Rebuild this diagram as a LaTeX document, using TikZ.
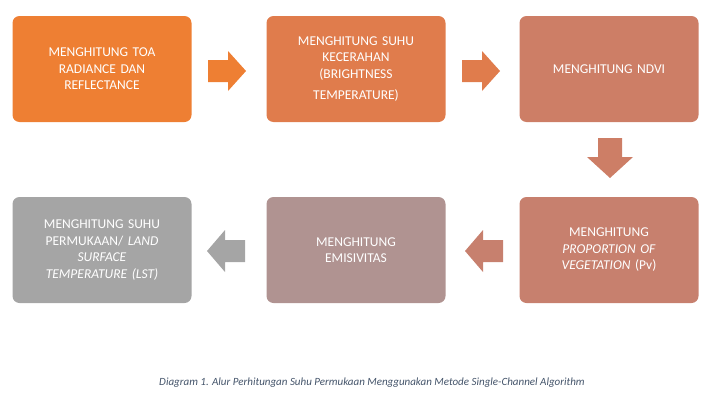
\documentclass[tikz,border=0pt]{standalone}
\usepackage{fontspec}
\setmainfont{Carlito}
\begin{document}
\begin{tikzpicture}[x=1pt,y=-1pt,
  box/.style={rounded corners=7pt,text=white,align=center,font=\fontsize{13.5}{16.5}\selectfont,minimum width=179pt,minimum height=106pt,inner sep=4pt,text width=170pt}]
\definecolor{c1}{HTML}{EE7F33}
\definecolor{c2}{HTML}{E07C4C}
\definecolor{c3}{HTML}{CD7E66}
\definecolor{c4}{HTML}{C7806E}
\definecolor{c5}{HTML}{B09391}
\definecolor{c6}{HTML}{A5A5A5}
\definecolor{cap}{HTML}{44546A}
\useasboundingbox (0,0) rectangle (715,407);
\node[box,fill=c1] (b1) at (102,69) {MENGHITUNG TOA\\RADIANCE DAN\\REFLECTANCE};
\node[box,fill=c2] (b2) at (356,69) {MENGHITUNG SUHU\\KECERAHAN\\(BRIGHTNESS\\[5pt]TEMPERATURE)};
\node[box,fill=c3] (b3) at (609,69) {MENGHITUNG NDVI};
\node[box,fill=c4] (b4) at (609,250) {MENGHITUNG\\\textit{PROPORTION OF}\\\textit{VEGETATION} (Pv)};
\node[box,fill=c5] (b5) at (356,250) {MENGHITUNG\\EMISIVITAS};
\node[box,fill=c6] (b6) at (102,250) {MENGHITUNG SUHU\\PERMUKAAN/ \textit{LAND}\\\textit{SURFACE}\\\textit{TEMPERATURE (LST)}};
% arrows
\fill[c1] (208,60) -- (228,60) -- (228,51) -- (246,71) -- (228,91) -- (228,82) -- (208,82) -- cycle;
\fill[c2] (462,60) -- (482,60) -- (482,51) -- (500,71) -- (482,91) -- (482,82) -- (462,82) -- cycle;
\fill[c3] (598,138) -- (622,138) -- (622,157) -- (633,157) -- (610,178) -- (587,157) -- (598,157) -- cycle;
\fill[c4] (503,240) -- (483,240) -- (483,230) -- (465,251) -- (483,272) -- (483,262) -- (503,262) -- cycle;
\fill[c6] (245,240) -- (225,240) -- (225,230) -- (207,251) -- (225,272) -- (225,262) -- (245,262) -- cycle;
\node[text=cap,font=\fontsize{11}{13}\selectfont\itshape] (capt) at (372,383) {Diagram 1. Alur Perhitungan Suhu Permukaan Menggunakan Metode Single-Channel Algorithm};
\end{tikzpicture}
\end{document}
